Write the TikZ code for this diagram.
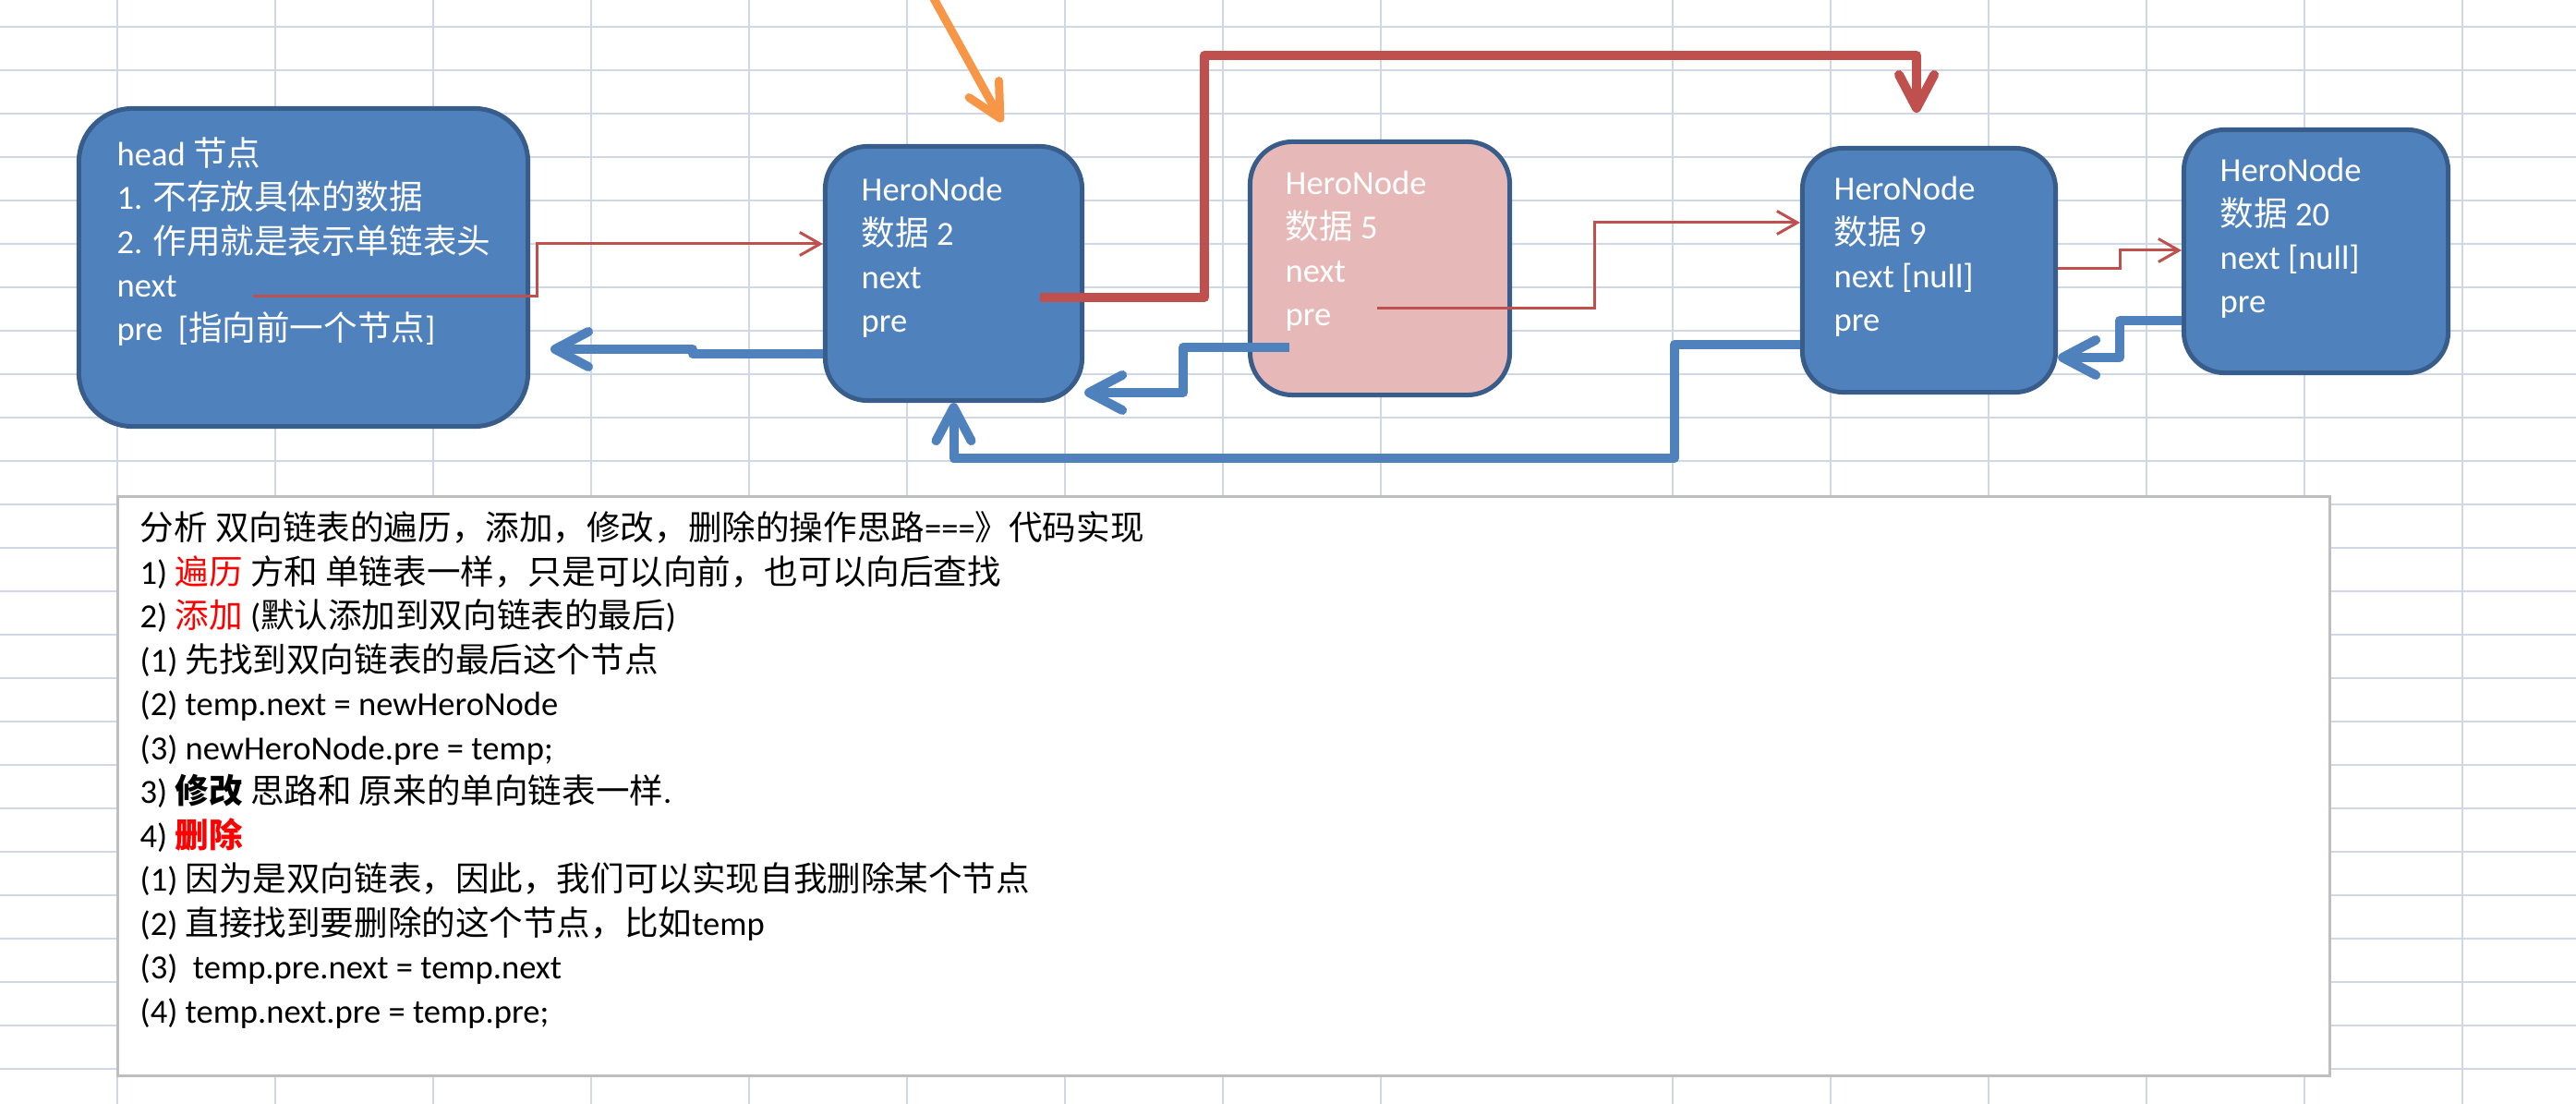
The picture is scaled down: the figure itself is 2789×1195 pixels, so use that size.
\documentclass[tikz,border=0pt]{standalone}
\usepackage{fontspec}
\usepackage{xcolor}
\usetikzlibrary{arrows.meta}
\setmainfont{Carlito}
\newfontfamily\cjk{Noto Sans CJK SC}
\newcommand\zh[1]{{\cjk #1}}
\definecolor{excelblue}{RGB}{79,129,189}
\definecolor{exceledge}{RGB}{56,93,138}
\definecolor{excelpink}{RGB}{230,185,184}
\definecolor{excelred}{RGB}{192,80,77}
\definecolor{excelorange}{RGB}{247,150,70}
\definecolor{gridblue}{RGB}{208,215,229}
\definecolor{notegray}{RGB}{190,190,190}

\begin{document}
\begin{tikzpicture}[x=0.01cm,y=-0.01cm,
  gridline/.style={gridblue,line width=0.4pt},
  heronode/.style={draw=exceledge,fill=excelblue,line width=0.05cm,inner sep=0pt},
  herotext/.style={anchor=base west,align=left,inner sep=0pt,font=\fontsize{10.4}{13.5}\selectfont},
  nextlink/.style={excelred,line width=0.03cm,-{Straight Barb[length=0.22cm,width=0.25cm]}},
  prelink/.style={excelblue,line width=0.1cm,line join=round,-{Straight Barb[length=0.36cm,width=0.38cm,round]}},
  bignext/.style={excelred,line width=0.1cm,line join=round,-{Straight Barb[length=0.36cm,width=0.38cm,round]}},
  newlink/.style={excelorange,line width=0.09cm,-{Straight Barb[length=0.36cm,width=0.37cm,round]}}]
  \useasboundingbox (0,0) rectangle (2789,1195);
  \clip (0,0) rectangle (2789,1195);
  \foreach \k in {0,...,24}
    \draw[gridline] (0,{29+47*\k}) -- (2789,{29+47*\k});
  \foreach \x in {127,298,469,640,811,982,1153,1324,1495,1811,1982,2153,2324,2495,2666}
    \draw[gridline] (\x,0) -- (\x,1195);

  \node[heronode,rounded corners=0.58cm,minimum width=4.86cm,minimum height=3.44cm] (head) at (328.5,289.5) {};
  \node[heronode,rounded corners=0.46cm,minimum width=2.78cm,minimum height=2.75cm] (n2) at (1032.5,296) {};
  \node[heronode,fill=excelpink,rounded corners=0.46cm,minimum width=2.81cm,minimum height=2.74cm] (n5) at (1494,290.5) {};
  \node[heronode,rounded corners=0.44cm,minimum width=2.74cm,minimum height=2.64cm] (n9) at (2088.5,292.5) {};
  \node[heronode,rounded corners=0.44cm,minimum width=2.86cm,minimum height=2.63cm] (n20) at (2507.5,272) {};

  \node[herotext,white] (headtxt) at (126,369) {head \zh{节点}\\1. \zh{不存放具体的数据}\\2. \zh{作用就是表示单链表头}\\next\\pre\ \ [\zh{指向前一个节点}]};
  \node[herotext,white] (n2txt) at (932,360) {HeroNode\\\zh{数据} 2\\next\\pre};
  \node[herotext,white] (n5txt) at (1391,353) {HeroNode\\\zh{数据} 5\\next\\pre};
  \node[herotext,white] (n9txt) at (1985,359) {HeroNode\\\zh{数据} 9\\next [null]\\pre};
  \node[herotext,white] (n20txt) at (2403,339) {HeroNode\\\zh{数据} 20\\next [null]\\pre};

  \coordinate (hnext) at (274,321);
  \coordinate (headpre) at (596,378);
  \coordinate (n2next) at (1126,322);
  \coordinate (n5link) at (1491,334);
  \coordinate (n5pre) at (1396,376);
  \coordinate (n9drop) at (2075,122);
  \coordinate (newfrom) at (1009,-5);
  \coordinate (newto) at (1085,132);

  \draw[nextlink] (hnext) -- ++(307,0) |- (n2.west |- 0,264);
  \draw[nextlink] (n5link) -- ++(235,0) |- (n9.west |- 0,241);
  \draw[nextlink] (n9.east |- 0,291) -- ++(67,0) |- (n20.west |- 0,271);
  \draw[bignext] (n2next) -- ++(178,0) -- ++(0,-262) -| (n9drop);
  \draw[prelink] (n2.west |- 0,383) -- ++(-141,0) -- ++(0,-5) -- (headpre);
  \draw[prelink] (n5pre) -- ++(-115,0) |- (n2.east |- 0,425);
  \draw[prelink] (n9.west |- 0,373) -- ++(-136,0) -- ++(0,123) -| (n2.south);
  \draw[prelink] (n20.west |- 0,347) -- ++(-67,0) |- (n9.east |- 0,387);
  \draw[newlink] (newfrom) -- (newto);

  \node[draw=notegray,fill=white,line width=0.03cm,minimum width=23.93cm,minimum height=6.27cm,inner sep=0pt] (notes) at (1325,851) {};
  \node[herotext] (notetxt) at (151,1107) {\zh{分析} \zh{双向链表的遍历，添加，修改，删除的操作思路}===\zh{》代码实现}\\
    1) \textcolor{red}{\zh{遍历}} \zh{方和} \zh{单链表一样，只是可以向前，也可以向后查找}\\
    2) \textcolor{red}{\zh{添加}} (\zh{默认添加到双向链表的最后})\\
    (1) \zh{先找到双向链表的最后这个节点}\\
    (2) temp.next = newHeroNode\\
    (3) newHeroNode.pre = temp;\\
    3) \textbf{\zh{修改}} \zh{思路和} \zh{原来的单向链表一样}.\\
    4) \textcolor{red}{\bfseries\zh{删除}}\\
    (1) \zh{因为是双向链表，因此，我们可以实现自我删除某个节点}\\
    (2) \zh{直接找到要删除的这个节点，比如}temp\\
    (3)\ \ temp.pre.next = temp.next\\
    (4) temp.next.pre = temp.pre;};
\end{tikzpicture}
\end{document}
